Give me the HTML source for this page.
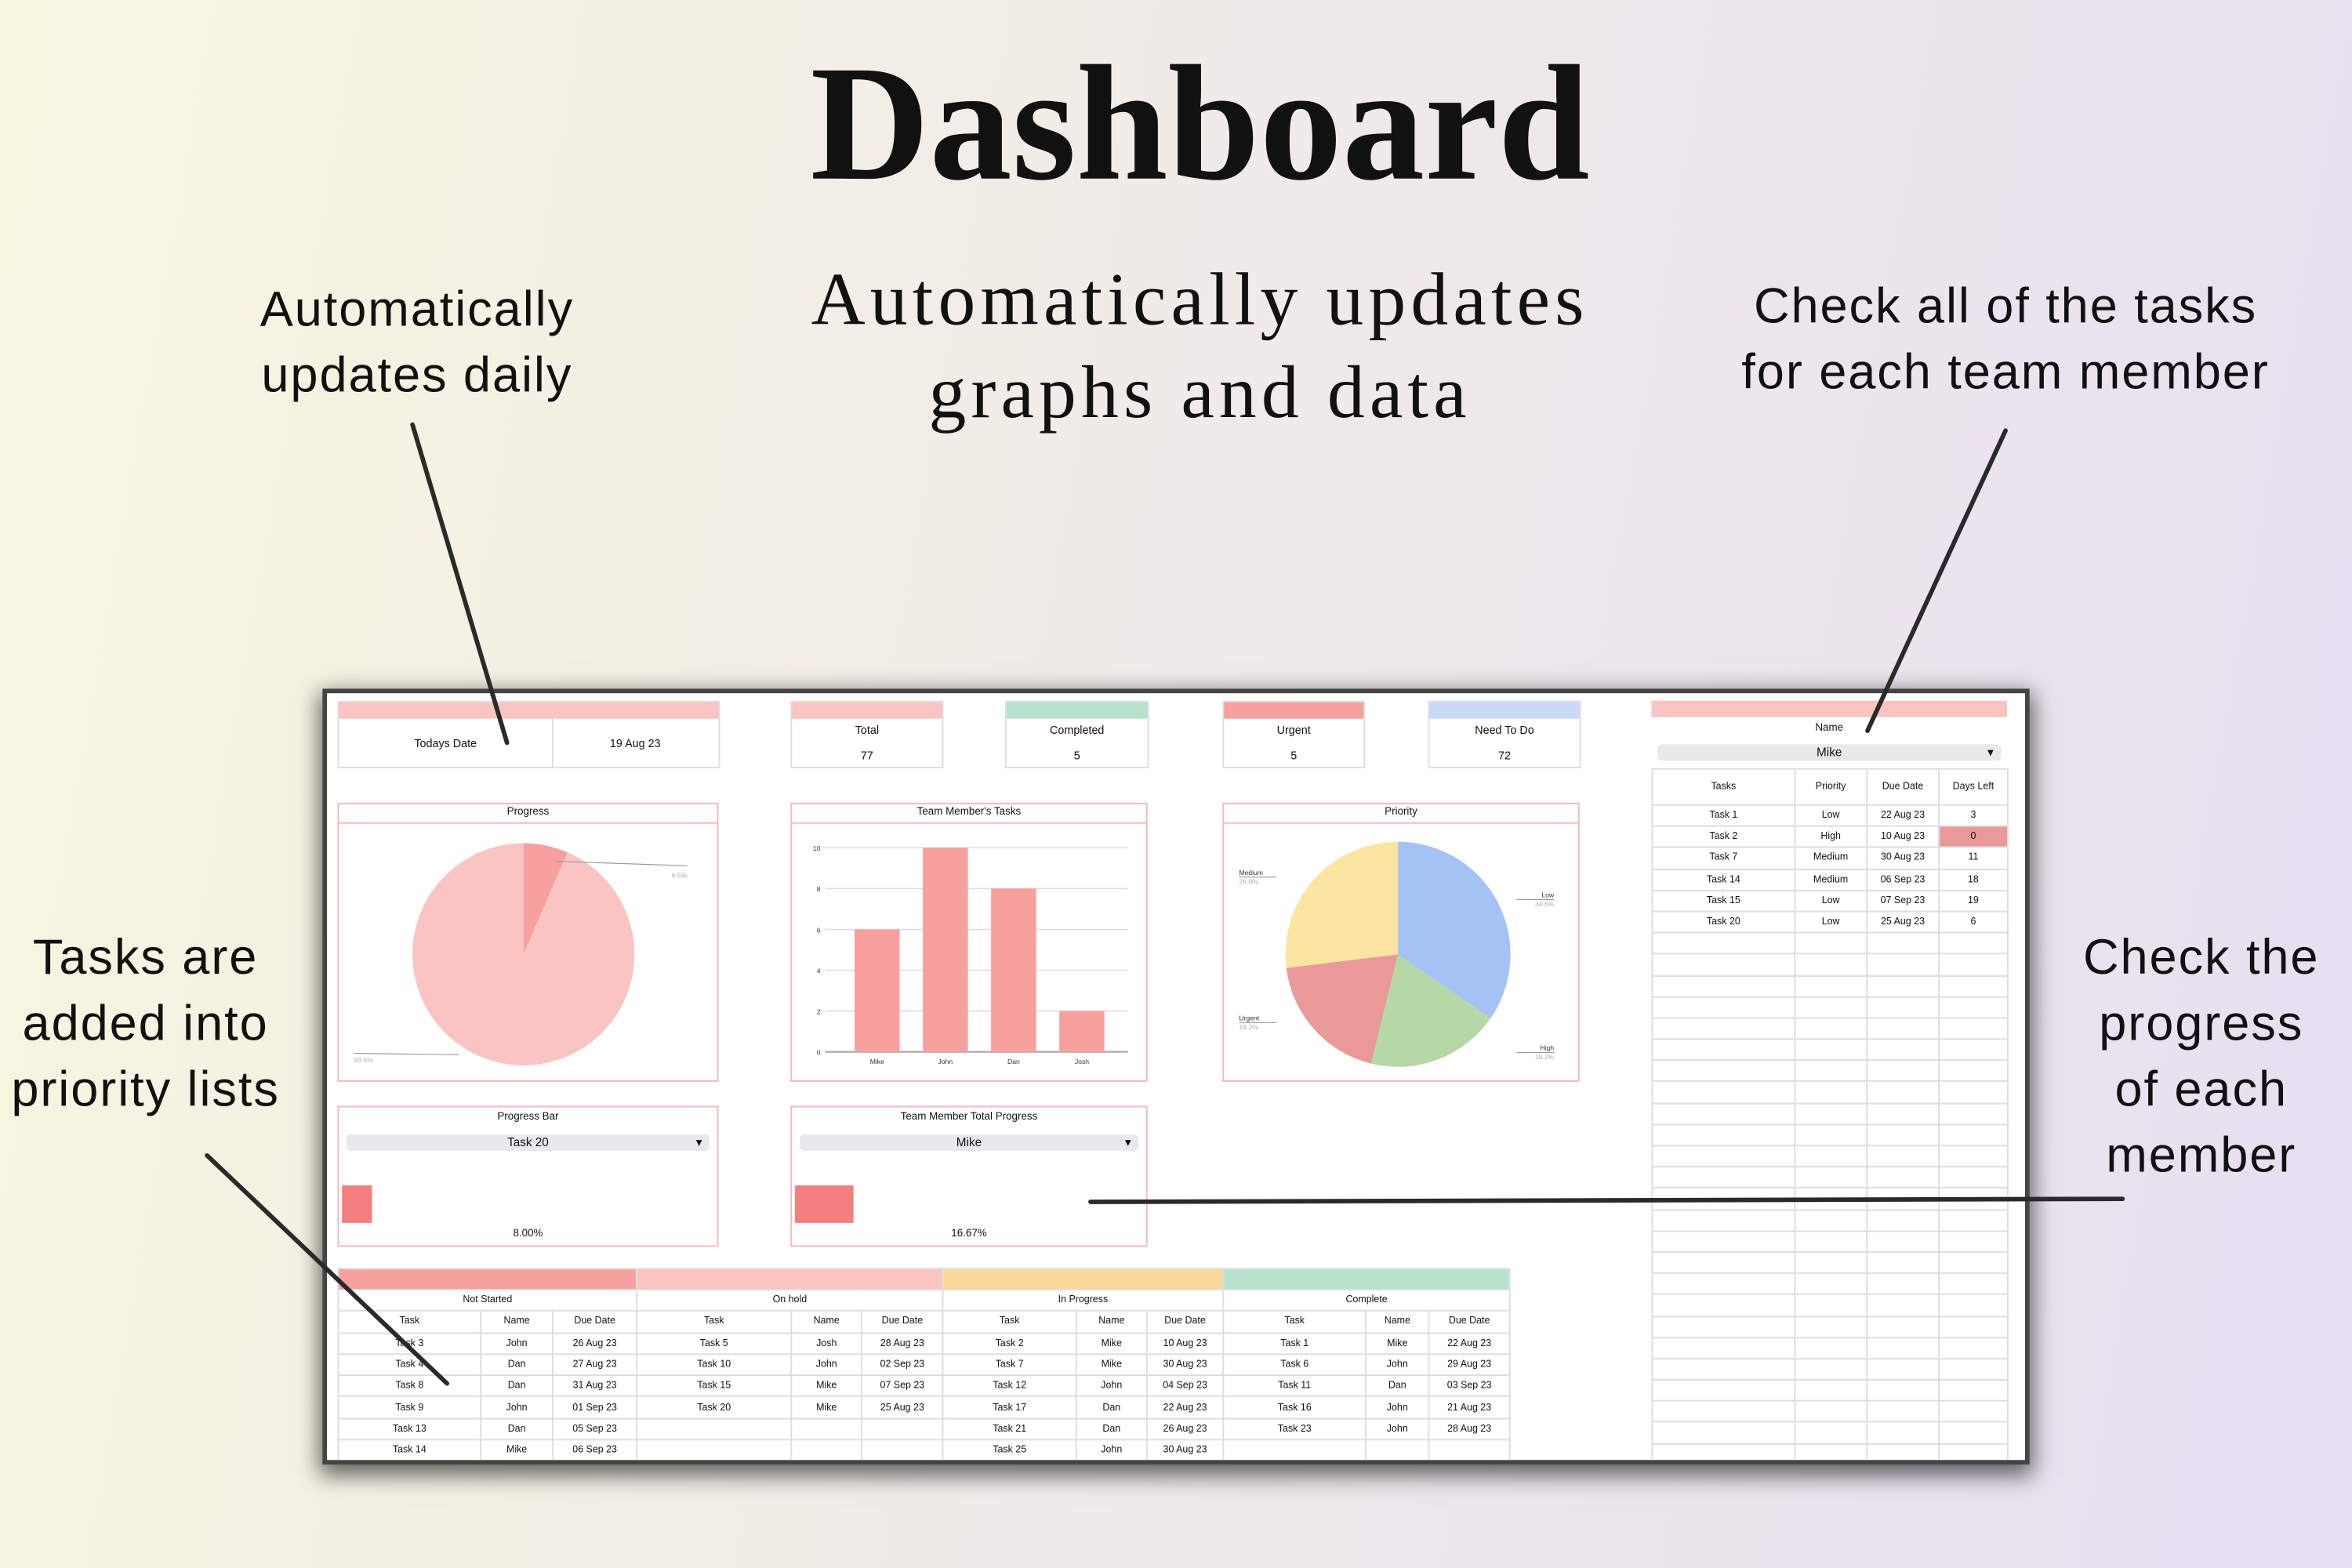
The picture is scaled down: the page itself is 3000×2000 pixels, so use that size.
<!DOCTYPE html>
<html><head><meta charset="utf-8">
<style>
html,body{margin:0;padding:0;width:3000px;height:2000px;overflow:hidden}
#root{position:absolute;left:0;top:0;width:1568px;height:1045px;transform-origin:0 0;transform:scale(1.91327,1.91388);
background:linear-gradient(100deg,#f8f6df 0%,#f1ebe8 45%,#e7dff1 100%);font-family:"Liberation Sans",sans-serif;color:#111}
.a{position:absolute}
.serif{font-family:"Liberation Serif",serif}
.c{text-align:center}
.big{font-size:33px;line-height:44px;letter-spacing:1px}
#panel{position:absolute;left:218px;top:462px;width:1132px;height:511px;background:#fff;box-shadow:0 0 0 3px #444,0 5px 14px 5px rgba(0,0,0,.6);overflow:hidden}
.box{position:absolute;border:1px solid #ddd;background:#fff;font-size:7.5px}
.hd{position:absolute;left:0;right:0;top:0;height:11px}
.cbox{position:absolute;border:1.5px solid #f6b8b8;background:#fff;font-size:7px}
.ttl{position:absolute;left:0;right:0;top:0;height:12px;border-bottom:1.5px solid #f6b8b8;text-align:center;line-height:12px}
table{border-collapse:collapse;font-size:6.5px;position:absolute;table-layout:fixed}
td{border:1px solid #ddd;text-align:center;padding:0;height:13.3px;overflow:hidden;white-space:nowrap}
.dd{position:absolute;background:#e8e9ec;border-radius:3px;font-size:8px;text-align:center;line-height:11px}
.dd:after{content:"▾";position:absolute;right:5px;font-size:8px}
</style></head><body>
<div id="root">
<div class="a serif c" style="left:400px;width:800px;top:22px;font-size:110px;font-weight:bold;line-height:120px">Dashboard</div>
<div class="a serif c" style="left:430px;width:740px;top:168px;font-size:50px;line-height:62px;letter-spacing:3.2px">Automatically updates<br>graphs and data</div>
<div class="a c big" style="left:128px;width:300px;top:184px">Automatically<br>updates daily</div>
<div class="a c big" style="left:1137px;width:400px;top:182px">Check all of the tasks<br>for each team member</div>
<div class="a c big" style="left:-8px;width:210px;top:616px">Tasks are<br>added into<br>priority lists</div>
<div class="a c big" style="left:1370px;width:195px;top:616px">Check the<br>progress<br>of each<br>member</div>

<div id="panel">
 <div class="box" style="left:7px;top:5px;width:253px;height:43px">
  <div class="hd" style="background:#f9c4c1"></div>
  <div class="a" style="left:142px;top:11px;bottom:0;border-left:1px solid #ddd"></div>
  <div class="a c" style="left:0;width:142px;top:23px">Todays Date</div>
  <div class="a c" style="left:142px;width:111px;top:23px">19 Aug 23</div>
 </div>
 <div class="box c" style="left:309px;top:5px;width:100px;height:43px"><div class="hd" style="background:#f9c4c1"></div><div class="a" style="left:0;right:0;top:14px">Total</div><div class="a" style="left:0;right:0;top:31px">77</div></div>
 <div class="box c" style="left:452px;top:5px;width:94px;height:43px"><div class="hd" style="background:#b7e1cd"></div><div class="a" style="left:0;right:0;top:14px">Completed</div><div class="a" style="left:0;right:0;top:31px">5</div></div>
 <div class="box c" style="left:597px;top:5px;width:93px;height:43px"><div class="hd" style="background:#f7a19e"></div><div class="a" style="left:0;right:0;top:14px">Urgent</div><div class="a" style="left:0;right:0;top:31px">5</div></div>
 <div class="box c" style="left:734px;top:5px;width:100px;height:43px"><div class="hd" style="background:#c9daf8"></div><div class="a" style="left:0;right:0;top:14px">Need To Do</div><div class="a" style="left:0;right:0;top:31px">72</div></div>

 <div class="cbox" style="left:7px;top:73px;width:252px;height:184px"><div class="ttl">Progress</div>
  <svg class="a" style="left:0;top:14px" width="252" height="170" id="progSvg"></svg></div>
 <div class="cbox" style="left:309px;top:73px;width:236px;height:184px"><div class="ttl">Team Member's Tasks</div>
  <svg class="a" style="left:0;top:14px" width="236" height="170" id="barSvg"></svg></div>
 <div class="cbox" style="left:597px;top:73px;width:236px;height:184px"><div class="ttl">Priority</div>
  <svg class="a" style="left:0;top:14px" width="236" height="170" id="priSvg"></svg></div>

 <div class="cbox" style="left:7px;top:275px;width:252px;height:92px"><div class="a c" style="left:0;right:0;top:3px">Progress Bar</div>
  <div class="dd" style="left:5px;right:5px;top:18px;height:11px">Task 20</div>
  <div class="a" style="left:2px;top:52px;width:20px;height:25px;background:#f47f7f"></div>
  <div class="a c" style="left:0;right:0;top:81px">8.00%</div></div>
 <div class="cbox" style="left:309px;top:275px;width:236px;height:92px"><div class="a c" style="left:0;right:0;top:3px">Team Member Total Progress</div>
  <div class="dd" style="left:5px;right:5px;top:18px;height:11px">Mike</div>
  <div class="a" style="left:2px;top:52px;width:39px;height:25px;background:#f47f7f"></div>
  <div class="a c" style="left:0;right:0;top:81px">16.67%</div></div>

 <div class="a" style="left:883px;top:5px;width:237px;height:506px;font-size:7px">
  <div class="a" style="left:0;right:0;top:0;height:11px;background:#f9c4c1"></div>
  <div class="a c" style="left:0;right:0;top:15px">Name</div>
  <div class="dd" style="left:4px;right:4px;top:29px;height:11px;font-size:8px">Mike</div>
  <table id="memTbl" style="left:0;top:45px;width:237px"></table>
 </div>
 <table id="statusTbl" style="left:7px;top:383px;width:781px"></table>
</div>

<svg class="a" style="left:0;top:0" width="1568" height="1045">
 <g stroke="#2a2a2a" stroke-width="3" stroke-linecap="round">
 <line x1="275" y1="283" x2="338" y2="495"/>
 <line x1="1337" y1="287" x2="1245" y2="487"/>
 <line x1="138" y1="770" x2="298" y2="922"/>
 <line x1="727" y1="801" x2="1415" y2="799"/>
 </g>
</svg>
</div>
<script>
const barNames=["Mike","John","Dan","Josh"];
const barValues=[6,10,8,2];
const yTicks=[0,2,4,6,8,10];
const priLabels=["Low","High","Urgent","Medium"];
const priValues=[34.6,19.2,19.2,26.9];
const progLabels=["Complete","Incomplete"];
const progValues=[6.5,93.5];
const NS="http://www.w3.org/2000/svg";
function mk(p,t,a){const e=document.createElementNS(NS,t);for(const k in a)e.setAttribute(k,a[k]);p.appendChild(e);return e;}
function txt(p,x,y,s,size,fill,anchor){const e=mk(p,"text",{x:x,y:y,"font-size":size,fill:fill,"text-anchor":anchor||"middle"});e.textContent=s;return e;}
// bar chart
(function(){const s=document.getElementById("barSvg");const g0=22,x0=34,x1=216,g1=224,yb=151,yt=15;
 const ys=v=>yb-(v/10)*(yb-yt);
 yTicks.forEach(t=>{const l=mk(s,"line",{x1:g0,x2:g1,y1:ys(t),y2:ys(t),stroke:t?"#ddd":"#aaa","stroke-width":t?0.8:1.2});
  
  txt(s,g0-3,ys(t)+2,t,4.5,"#333","end");});
 const bw=(x1-x0)/barNames.length;
 barNames.forEach((n,i)=>{const cx=x0+(i+0.5)*bw;const r=mk(s,"rect",{x:cx-bw*0.33,y:ys(barValues[i]),width:bw*0.66,height:yb-ys(barValues[i]),fill:"#f7a09e"});
  
  
  txt(s,cx,yb+8,n,4.5,"#333");});
})();
function pie(svgId,vals,cols,cx,cy,r){const s=document.getElementById(svgId);const tot=vals.reduce((a,b)=>a+b,0);let a=-Math.PI/2;const mids=[];
 vals.forEach((v,i)=>{const b=a+v/tot*2*Math.PI;const lg=(b-a)>Math.PI?1:0;
  const p=mk(s,"path",{d:`M${cx},${cy}L${cx+r*Math.cos(a)},${cy+r*Math.sin(a)}A${r},${r} 0 ${lg} 1 ${cx+r*Math.cos(b)},${cy+r*Math.sin(b)}Z`,fill:cols[i]});
  
  
  mids.push((a+b)/2);a=b;});return {s,mids};}
(function(){const o=pie("progSvg",progValues,["#f7a19e","#f9c4c1"],123,86,74);const s=o.s;
 mk(s,"line",{x1:145,y1:24,x2:232,y2:27,stroke:"#999","stroke-width":0.6});
 txt(s,232,35,progValues[0]+"%",4.5,"#aaa","end");
 mk(s,"line",{x1:10,y1:152,x2:80,y2:153,stroke:"#999","stroke-width":0.6});
 txt(s,10,158,progValues[1]+"%",4.5,"#aaa","start");})();
(function(){const o=pie("priSvg",priValues,["#a4c2f4","#b6d7a8","#ea9999","#fce5a0"],116,86,75);const s=o.s;
 const pos=[[220,48,"end"],[220,150,"end"],[10,130,"start"],[10,33,"start"]];
 priLabels.forEach((l,i)=>{const [x,y,an]=pos[i];txt(s,x,y,l,4.5,"#333",an);txt(s,x,y+6,priValues[i]+"%",4.5,"#aaa",an);
  mk(s,"line",{x1:an=="end"?x-25:x,x2:an=="end"?x:x+25,y1:y+1.5,y2:y+1.5,stroke:"#999","stroke-width":0.6});});})();
// member table
const memRows=[["Task 1","Low","22 Aug 23","3"],["Task 2","High","10 Aug 23","0"],["Task 7","Medium","30 Aug 23","11"],["Task 14","Medium","06 Sep 23","18"],["Task 15","Low","07 Sep 23","19"],["Task 20","Low","25 Aug 23","6"]];
(function(){const t=document.getElementById("memTbl");let h='<colgroup><col style="width:95px"><col style="width:48px"><col style="width:48px"><col style="width:46px"></colgroup>';
 h+='<tr style="height:24px"><td>Tasks</td><td>Priority</td><td>Due Date</td><td>Days Left</td></tr>';
 for(let i=0;i<31;i++){const r=memRows[i]||["","","",""];h+='<tr style="height:14.2px">'+r.map((c,j)=>`<td style="height:13.2px${(i==1&&j==3)?';background:#ea9999':''}">${c}</td>`).join("")+'</tr>';}
 t.innerHTML=h;})();
// status table
const groups=["Not Started","On hold","In Progress","Complete"];
const gcols=["#f7a19e","#f9c4c1","#fcd89b","#b7e1cd"];
const cols=[[["Task 3","John","26 Aug 23"],["Task 4","Dan","27 Aug 23"],["Task 8","Dan","31 Aug 23"],["Task 9","John","01 Sep 23"],["Task 13","Dan","05 Sep 23"],["Task 14","Mike","06 Sep 23"]],
[["Task 5","Josh","28 Aug 23"],["Task 10","John","02 Sep 23"],["Task 15","Mike","07 Sep 23"],["Task 20","Mike","25 Aug 23"]],
[["Task 2","Mike","10 Aug 23"],["Task 7","Mike","30 Aug 23"],["Task 12","John","04 Sep 23"],["Task 17","Dan","22 Aug 23"],["Task 21","Dan","26 Aug 23"],["Task 25","John","30 Aug 23"]],
[["Task 1","Mike","22 Aug 23"],["Task 6","John","29 Aug 23"],["Task 11","Dan","03 Sep 23"],["Task 16","John","21 Aug 23"],["Task 23","John","28 Aug 23"]]];
(function(){const t=document.getElementById("statusTbl");const w=[[95,48,56],[103,47,54],[89,47,51],[95,42,54]];
 let h='<colgroup>'+w.flat().map(x=>`<col style="width:${x}px">`).join("")+'</colgroup>';
 h+='<tr>'+gcols.map(c=>`<td colspan="3" style="background:${c};height:13px"></td>`).join("")+'</tr>';
 h+='<tr>'+groups.map(g=>`<td colspan="3">${g}</td>`).join("")+'</tr>';
 h+='<tr>'+groups.map(()=>'<td>Task</td><td>Name</td><td>Due Date</td>').join("")+'</tr>';
 for(let i=0;i<6;i++){h+='<tr>'+cols.map(c=>{const r=c[i]||["","",""];return r.map(x=>`<td>${x}</td>`).join("");}).join("")+'</tr>';}
 t.innerHTML=h;})();
</script>
</body></html>
